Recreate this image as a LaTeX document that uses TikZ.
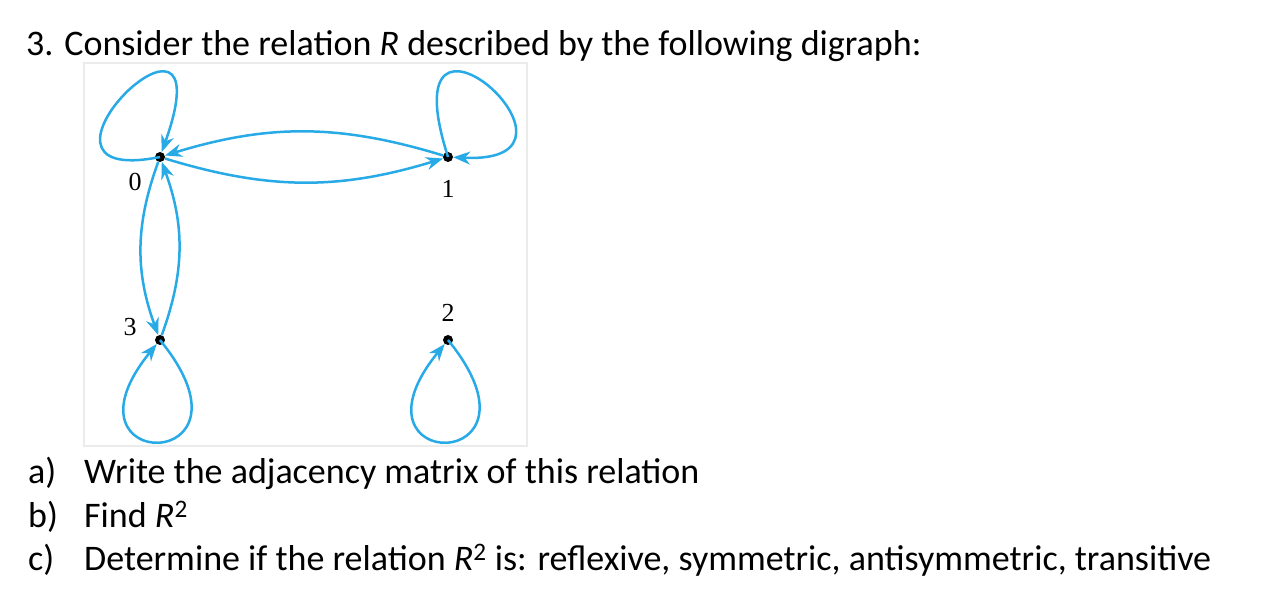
\documentclass[tikz,border=0pt]{standalone}
\usepackage{fontspec}
\setmainfont{Carlito}
\newfontfamily\serf{Liberation Serif}
\usetikzlibrary{arrows.meta}
\definecolor{eblue}{RGB}{40,170,230}
\tikzset{
  vtx/.style={circle,fill=black,inner sep=0pt,minimum size=10pt},
  edg/.style={eblue,line width=2.5pt,-{Stealth[length=17pt,width=13pt]}},
  lbl/.style={font=\serf\fontsize{26}{26}\selectfont,inner sep=0pt},
  txt/.style={font=\fontsize{36}{36}\selectfont,anchor=base west,inner sep=0pt}
}
\begin{document}
\begin{tikzpicture}[x=1pt,y=-1pt]
\useasboundingbox (0,0) rectangle (1264,601);
\fill[white] (0,0) rectangle (1264,601);
\draw[black!8,line width=1.5pt] (84,63) rectangle (527,446);
\node[vtx] (n0) at (160,157) {};
\node[vtx] (n1) at (448,157) {};
\node[vtx] (n3) at (160,340) {};
\node[vtx] (n2) at (448,340) {};
\node[lbl] (l0) at (135,182) {0};
\node[lbl] (l1) at (448,189) {1};
\node[lbl] (l3) at (130,327) {3};
\node[lbl] (l2) at (448,313) {2};
\draw[edg] (n1) to[bend right=17] (n0);
\draw[edg] (n0) to[bend right=17] (n1);
\draw[edg] (n0) to[bend right=20] (n3);
\draw[edg] (n3) to[bend right=20] (n0);
\draw[edg] (n0.center) .. controls (-5,190) and (230,-40) .. (n0);
\draw[edg] (n1.center) .. controls (385,-40) and (615,165) .. (n1);
\draw[edg] (n3.center) .. controls (270,475) and (50,475) .. (n3);
\draw[edg] (n2.center) .. controls (558,475) and (338,475) .. (n2);
\node[txt] (t0) at (26,56) {3. Consider the relation \textit{R} described by the following digraph:};
\node[txt] (ta) at (28,483) {a)};
\node[txt] (tat) at (84,483) {Write the adjacency matrix of this relation};
\node[txt] (tb) at (28,527) {b)};
\node[txt] (tbt) at (84,527) {Find \textit{R}\textsuperscript{2}};
\node[txt] (tc) at (28,570) {c)};
\node[txt] (tct) at (84,570) {Determine if the relation \textit{R}\textsuperscript{2} is: reflexive, symmetric, antisymmetric, transitive};
\end{tikzpicture}
\end{document}
